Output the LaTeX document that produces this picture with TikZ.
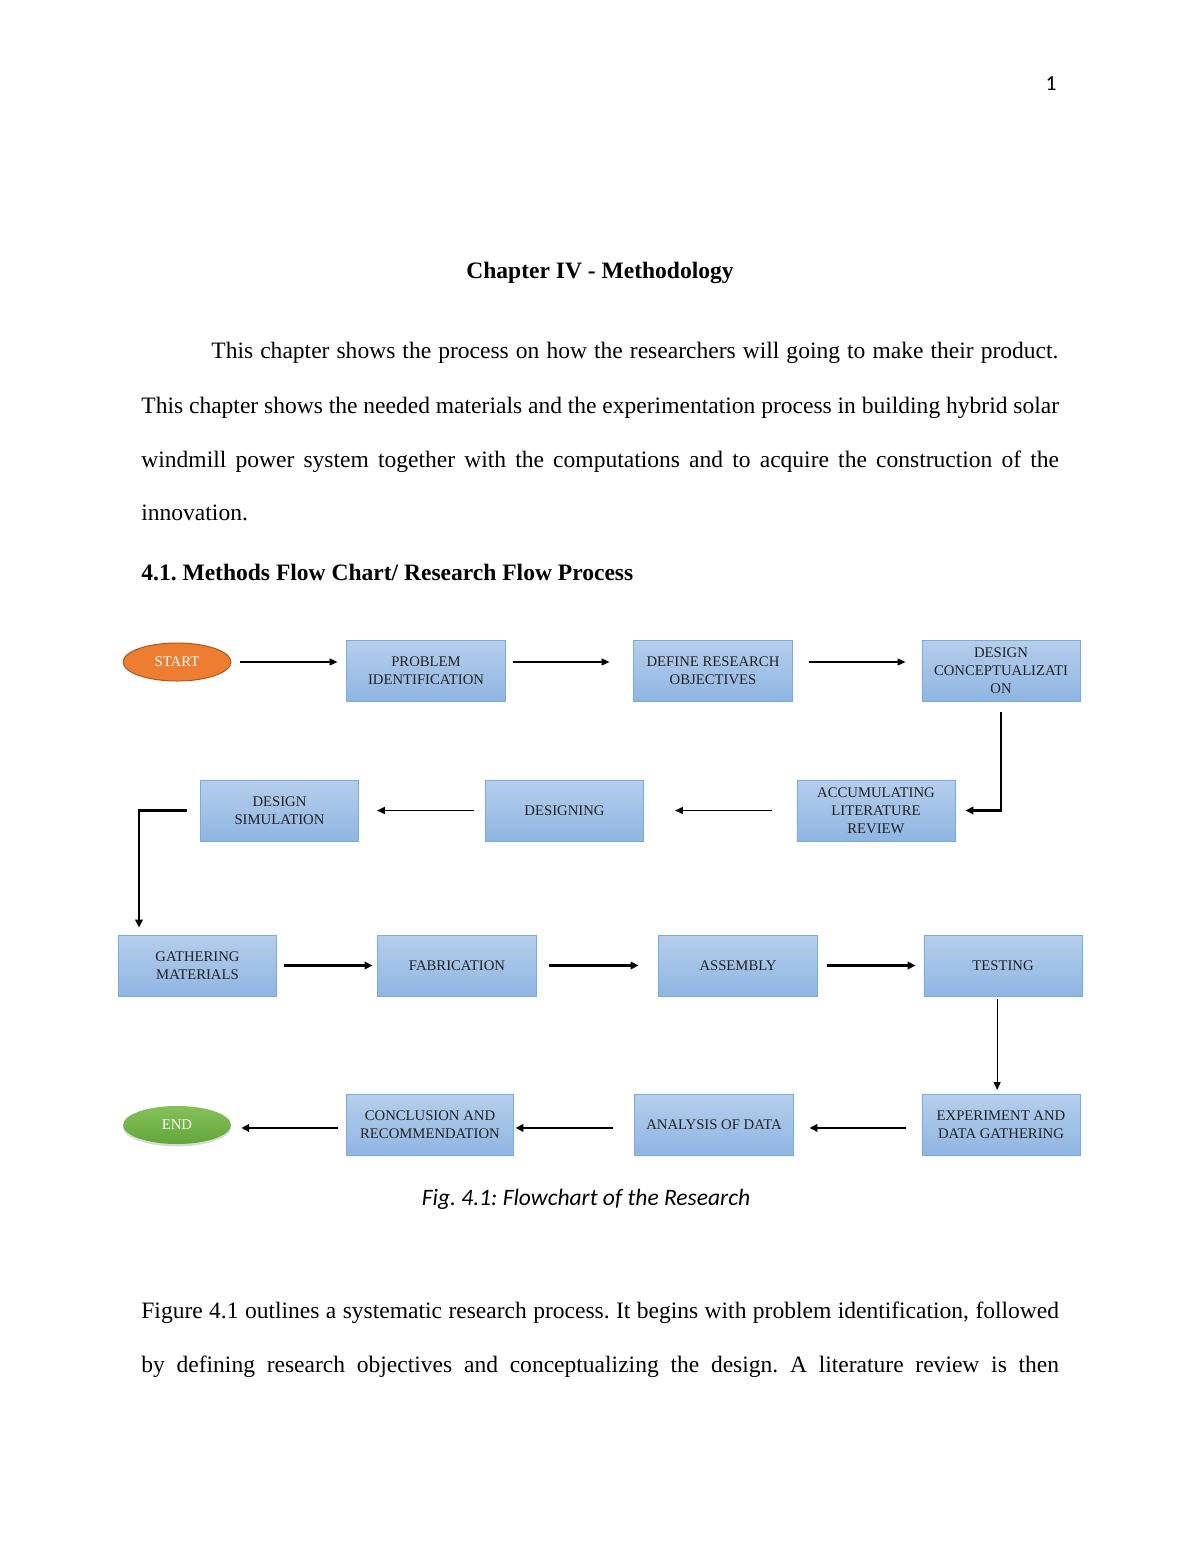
\documentclass[tikz,border=0pt]{standalone}
\usepackage{fontspec}
\setmainfont{Liberation Serif}
\newfontfamily\calibri{Carlito}
\usetikzlibrary{shapes.geometric,arrows.meta,calc,shadows}
\definecolor{boxtop}{HTML}{B5CEEB}
\definecolor{boxbot}{HTML}{8FB5E2}
\definecolor{boxline}{HTML}{7AABDD}
\definecolor{startfill}{HTML}{ED7D31}
\definecolor{startline}{HTML}{A9561D}
\definecolor{endtop}{HTML}{86C05A}
\definecolor{endbot}{HTML}{62A63A}
\definecolor{boxtext}{HTML}{222222}
\tikzset{
  px/.style={x=0.51pt,y=-0.51pt},
  procbox/.style={rectangle, top color=boxtop, bottom color=boxbot, draw=boxline, line width=0.5pt,
    minimum width=80.6pt, minimum height=31.1pt, inner sep=0pt, align=center,
    font=\fontsize{7.5}{9.2}\selectfont, text=boxtext},
  startnode/.style={ellipse, fill=startfill, draw=startline, line width=0.5pt,
    minimum width=55pt, minimum height=19.4pt, inner sep=0pt, text=white,
    font=\fontsize{7.5}{9.2}\selectfont},
  endnode/.style={ellipse, top color=endtop, bottom color=endbot, draw=none,
    minimum width=55pt, minimum height=19.4pt, inner sep=0pt, text=white,
    font=\fontsize{7.5}{9.2}\selectfont,
    drop shadow={shadow xshift=0pt, shadow yshift=-1.2pt, opacity=0.25, fill=black!60}},
  thinarrow/.style={line width=0.6pt, -{Triangle[length=4pt,width=3.5pt]}},
  thickarrow/.style={line width=1.2pt, -{Triangle[length=4pt,width=3.8pt]}},
  gap/.style 2 args={shorten <=#1*0.51pt, shorten >=#2*0.51pt},
  bodyline/.style={anchor=base west, inner sep=0pt, font=\fontsize{12}{14}\selectfont},
}
\begin{document}
\frenchspacing
\begin{tikzpicture}[px]
\useasboundingbox (0,0) rectangle (1200,1553);
\fill[white] (0,0) rectangle (1200,1553);

% page number
\node[anchor=base, inner sep=0pt, font=\calibri\fontsize{11}{13}\selectfont] (pageno) at (1051,91) {1};

% heading
\node[anchor=base, inner sep=0pt, font=\bfseries\fontsize{12}{14}\selectfont] (heading) at (600,278) {Chapter IV - Methodology};

% paragraph
\node[bodyline] (p1) at (211,358) {\makebox[432pt][s]{This chapter shows the process on how the researchers will going to make their product.}};
\node[bodyline] (p2) at (141,413) {\makebox[468pt][s]{This chapter shows the needed materials and the experimentation process in building hybrid solar}};
\node[bodyline] (p3) at (141,467) {\makebox[468pt][s]{windmill power system together with the computations and to acquire the construction of the}};
\node[bodyline] (p4) at (141,520) {innovation.};

% subheading
\node[bodyline, font=\bfseries\fontsize{12}{14}\selectfont] (sub) at (141,580) {4.1. Methods Flow Chart/ Research Flow Process};

% flowchart nodes
\node[startnode] (start) at (177,662) {START};
\node[procbox] (prob) at (426,670.5) {PROBLEM\\IDENTIFICATION};
\node[procbox] (def) at (713,670.5) {DEFINE RESEARCH\\OBJECTIVES};
\node[procbox] (dc) at (1001,670.5) {DESIGN\\CONCEPTUALIZATI\\ON};
\node[procbox] (acc) at (876,810.5) {ACCUMULATING\\LITERATURE\\REVIEW};
\node[procbox] (des) at (564.5,810.5) {DESIGNING};
\node[procbox] (sim) at (279.5,810.5) {DESIGN\\SIMULATION};
\node[procbox] (gath) at (197.5,965.5) {GATHERING\\MATERIALS};
\node[procbox] (fab) at (457,965.5) {FABRICATION};
\node[procbox] (asm) at (738,965.5) {ASSEMBLY};
\node[procbox] (test) at (1003,965.5) {TESTING};
\node[procbox] (exp) at (1001,1125) {EXPERIMENT AND\\DATA GATHERING};
\node[procbox] (ana) at (714,1125) {ANALYSIS OF DATA};
\node[procbox, minimum width=84.7pt] (conc) at (430,1125) {CONCLUSION AND\\RECOMMENDATION};
\node[endnode] (end) at (177,1125) {END};

% connectors
\draw[thinarrow, gap={9}{9}] (start.east) -- (prob.west |- start.east);
\draw[thinarrow, gap={7}{24}] (prob.east |- start.east) -- (def.west |- start.east);
\draw[thinarrow, gap={16}{16}] (def.east |- start.east) -- (dc.west |- start.east);
\draw[thickarrow, gap={11}{10}] (dc.south) |- (acc.east);
\draw[thinarrow, line width=0.9pt, gap={25}{31}] (acc.west) -- (des.east);
\draw[thinarrow, line width=0.9pt, gap={11}{18}] (des.west) -- (sim.east);
\draw[thickarrow, shorten <=13*0.51pt] (sim.west) -| ($(gath.north west)+(21,-7)$);
\draw[thickarrow, gap={7}{5}] (gath.east) -- (fab.west);
\draw[thickarrow, gap={12}{20}] (fab.east) -- (asm.west);
\draw[thickarrow, gap={9}{8}] (asm.east) -- (test.west);
\draw[thinarrow, gap={3}{4}] ([xshift=-3pt]test.south) -- ([xshift=-3pt]test.south |- exp.north);
\draw[thickarrow, gap={16}{16}] ([yshift=-1.5pt]exp.west) -- ([yshift=-1.5pt]ana.east);
\draw[thickarrow, gap={21}{2}] ([yshift=-1.5pt]ana.west) -- ([yshift=-1.5pt]conc.east);
\draw[thickarrow, gap={8}{10}] ([yshift=-1.5pt]conc.west) -- ([yshift=-1.5pt]end.east);

% caption
\node[anchor=base, inner sep=0pt, font=\calibri\itshape\fontsize{12}{14}\selectfont] (cap) at (586,1205) {Fig. 4.1: Flowchart of the Research};

% closing paragraph
\node[bodyline] (q1) at (141,1318) {\makebox[468pt][s]{Figure 4.1 outlines a systematic research process. It begins with problem identification, followed}};
\node[bodyline] (q2) at (141,1372) {\makebox[468pt][s]{by defining research objectives and conceptualizing the design. A literature review is then}};
\end{tikzpicture}
\end{document}
